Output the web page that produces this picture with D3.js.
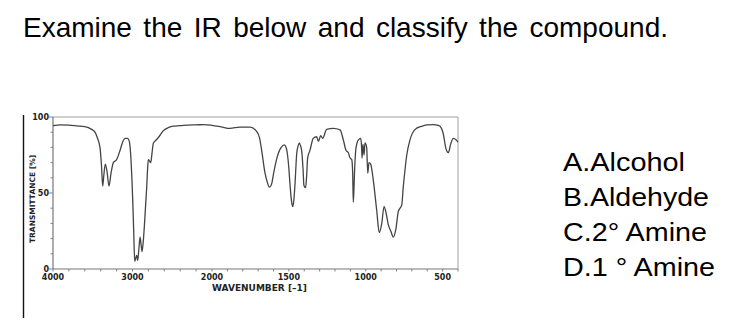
<!DOCTYPE html>
<html><head><meta charset="utf-8">
<script src="https://cdn.jsdelivr.net/npm/d3@7"></script>
<style>html,body{margin:0;padding:0;background:#fff;}svg{display:block;}</style>
</head><body>
<svg id="c" width="748" height="332"></svg>
<script>
const titleText = "Examine the IR below and classify the compound.";
const options = ["A.Alcohol", "B.Aldehyde", "C.2° Amine", "D.1 ° Amine"];
const xTickValues = [4000, 3000, 2000, 1500, 1000, 500];
const yTickValues = [0, 50, 100];
const xLabel = "WAVENUMBER [–1]";
const yLabel = "TRANSMITTANCE [%]";
const wavenumber = [4000,3900,3800,3700,3600,3520,3472,3440,3409,3390,3375,3360,3342,3320,3296,3270,3241,3199,3157,3120,3094,3060,3040,3019,3008,2997,2985,2972,2960,2947,2935,2920,2905,2892,2880,2865,2851,2835,2821,2810,2801,2785,2771,2755,2738,2700,2675,2640,2612,2550,2487,2400,2300,2200,2100,2000,1940,1883,1818,1753,1709,1690,1677,1655,1640,1627,1612,1601,1585,1569,1550,1530,1518,1510,1500,1493,1482,1475,1467,1460,1449,1440,1432,1424,1417,1408,1402,1391,1384,1378,1363,1341,1319,1308,1293,1280,1254,1211,1167,1146,1128,1113,1102,1091,1085,1081,1077,1074,1063,1048,1033,1028,1024,1018,1011,1005,994,987,979,968,951,929,912,896,881,868,853,836,821,805,788,777,766,756,745,734,712,680,637,600,561,530,517,496,478,463,447,430,413,400];
const transmittance = [94.3,94.8,94.7,94.2,93.6,92,90,86,80,68,54.5,62,69,64,54.6,63,70,72,78,84,86,86,84,72,60,45,25,5,7,9,5.5,13,21,16,11.4,18,28,42,54,66,72,71,70,76,82.7,85,86.5,89,91,93,94,94.3,94.7,94.8,95,94.5,93.5,92.5,93.4,93.4,90.4,86,78,63,57,53.8,56,62,70,76,80,81.6,80,76,66,56,44,41,46,56,76,81,83,81,78,66,55,53.5,62,73,78,86,87,84,87.7,86,91.9,92.5,91.5,85,78,76.5,73,72,63,44,52,61,80,85,86,82,73,82,75,83,80,63,70,69,58.5,38.8,24,30,41,37,29,24.6,21,25.7,37.9,40,42,54,65,74.5,85,91.7,93.9,94.8,95,94.5,93.9,89,79,76.5,82.5,86,85,83.5];

const svg = d3.select("#c");
svg.append("rect").attr("width",748).attr("height",332).attr("fill","#fff");

// title: slightly widened glyphs, remaining room given to word spaces
const title = svg.append("text").text(titleText)
  .attr("x",23).attr("y",37)
  .attr("font-family","'Liberation Sans', Arial, sans-serif").attr("font-size",28)
  .attr("fill","#000");
const natural = title.node().getComputedTextLength();
const spaces = titleText.split(" ").length - 1;
title.attr("word-spacing", Math.max(0,(645 - natural)/spaces));

// options
svg.selectAll("text.opt").data(options).enter().append("text").attr("class","opt")
  .text(d=>d)
  .attr("x",563).attr("y",(d,i)=>170.5+i*35)
  .attr("font-family","'Liberation Sans', Arial, sans-serif").attr("font-size",25)
  .attr("fill","#000")
  .attr("textLength",(d,i)=>[122,146,144,152][i]).attr("lengthAdjust","spacingAndGlyphs");

// page bar
svg.append("line").attr("x1",23.5).attr("x2",23.5).attr("y1",115).attr("y2",318)
  .attr("stroke","#111").attr("stroke-width",1.4);

const L=53, R=458, T=117, B=269;
const x = d3.scaleLinear().domain([4000,2000,400]).range([L,212,R]);
const y = d3.scaleLinear().domain([0,100]).range([B,T]);

// frame top/right
svg.append("path").attr("d",`M${L},${T}H${R}V${B}`).attr("fill","none")
  .attr("stroke","#a0a0a0").attr("stroke-width",1);

const tickFont = "'DejaVu Sans', Verdana, sans-serif";
// x axis
const minorX = d3.range(4000,2000,-200).concat(d3.range(2000,399,-100));
const gx = svg.append("g").attr("transform",`translate(0,${B})`);
gx.append("line").attr("x1",L).attr("x2",R).attr("stroke","#777").attr("stroke-width",1.2);
gx.selectAll("line.mt").data(minorX).enter().append("line")
  .attr("x1",d=>x(d)).attr("x2",d=>x(d)).attr("y1",0).attr("y2",2.5)
  .attr("stroke","#777").attr("stroke-width",0.9);
gx.selectAll("text").data(xTickValues).enter().append("text")
  .text(d=>d).attr("x",d=>x(d)).attr("y",10.5).attr("text-anchor","middle")
  .attr("font-family",tickFont).attr("font-weight","bold").attr("font-size",8).attr("fill","#222");

// y axis
const gy = svg.append("g").attr("transform",`translate(${L},0)`);
gy.append("line").attr("y1",T).attr("y2",B).attr("stroke","#777").attr("stroke-width",1.2);
gy.selectAll("line.mt").data(d3.range(0,101,10)).enter().append("line")
  .attr("y1",d=>y(d)).attr("y2",d=>y(d)).attr("x1",0).attr("x2",d=>d%50===0?-4:-2.5)
  .attr("stroke","#777").attr("stroke-width",0.9);
gy.selectAll("text").data(yTickValues).enter().append("text")
  .text(d=>d).attr("x",-4).attr("y",d=>y(d)+3).attr("text-anchor","end")
  .attr("font-family",tickFont).attr("font-weight","bold").attr("font-size",8).attr("fill","#222");

// axis titles
svg.append("text").text(xLabel).attr("x",259.5).attr("y",290.5).attr("text-anchor","middle")
  .attr("font-family",tickFont).attr("font-weight","bold").attr("font-size",9).attr("fill","#222");
svg.append("text").text(yLabel).attr("transform","translate(35,199) rotate(-90)")
  .attr("text-anchor","middle")
  .attr("font-family",tickFont).attr("font-weight","bold").attr("font-size",7.5).attr("fill","#222");

// spectrum
const pts = wavenumber.map((w,i)=>[w,transmittance[i]]);
const line = d3.line().x(d=>x(d[0])).y(d=>y(d[1])).curve(d3.curveMonotoneX);
svg.append("path").datum(pts).attr("d",line).attr("fill","none")
  .attr("stroke","#444").attr("stroke-width",1.3);
</script>
</body></html>
